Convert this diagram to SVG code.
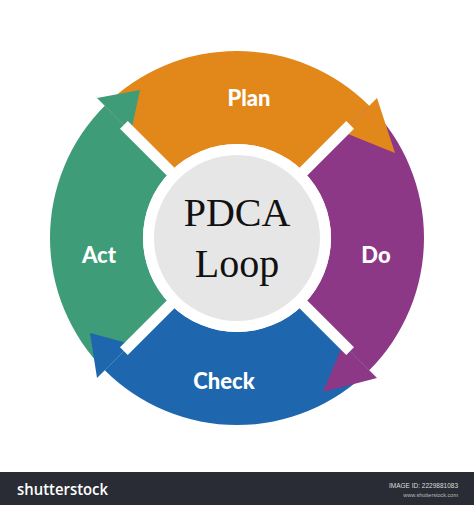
<svg xmlns="http://www.w3.org/2000/svg" width="474" height="505" viewBox="0 0 474 505">
<style>
.lbl{font-family:Lato,"Open Sans",sans-serif;font-weight:900;font-size:22px;fill:#fff;text-anchor:middle}
.ctr{font-family:"Liberation Serif","DejaVu Serif",serif;font-size:40px;fill:#111;text-anchor:middle}
.bar{stroke:#fff;stroke-width:11;stroke-linecap:butt}
</style>
<rect width="474" height="505" fill="#fff"/>
<g id="bodies">
<path id="plan-body" fill="#E2871A" d="M104.77,105.77 A187,187 0 0 1 369.23,105.77 L303.47,171.53 A94,94 0 0 0 170.53,171.53 Z"/>
<path id="do-body" fill="#8D3887" d="M369.23,105.77 A187,187 0 0 1 369.23,370.23 L303.47,304.47 A94,94 0 0 0 303.47,171.53 Z"/>
<path id="check-body" fill="#1E66AE" d="M369.23,370.23 A187,187 0 0 1 104.77,370.23 L170.53,304.47 A94,94 0 0 0 303.47,304.47 Z"/>
<path id="act-body" fill="#3E9C79" d="M104.77,370.23 A187,187 0 0 1 104.77,105.77 L170.53,171.53 A94,94 0 0 0 170.53,304.47 Z"/>
</g>
<g id="heads">
<polygon fill="#E2871A" points="343.07,131.93 377,98 395,153"/>
<polygon fill="#8D3887" points="343.07,344.07 377,378 323,392"/>
<polygon fill="#1E66AE" points="130.93,344.07 97,378 90,333"/>
<polygon fill="#3E9C79" points="130.93,131.93 97,98 140,90"/>
</g>
<g id="connectors">
<line class="bar" x1="300.64" y1="174.36" x2="350.14" y2="124.86"/>
<line class="bar" x1="300.64" y1="301.64" x2="350.14" y2="351.14"/>
<line class="bar" x1="173.36" y1="301.64" x2="123.86" y2="351.14"/>
<line class="bar" x1="173.36" y1="174.36" x2="123.86" y2="124.86"/>
</g>
<g id="center">
<circle cx="237" cy="238" r="94" fill="#fff"/>
<circle cx="237" cy="238" r="83" fill="#E6E6E6"/>
<text class="ctr" x="237" y="226">PDCA</text>
<text class="ctr" x="237" y="277">Loop</text>
</g>
<g id="plan"><text class="lbl" x="249" y="106">Plan</text></g>
<g id="do"><text class="lbl" x="376" y="263">Do</text></g>
<g id="check"><text class="lbl" x="224" y="389">Check</text></g>
<g id="act"><text class="lbl" x="99" y="263">Act</text></g>
<g id="footer">
<rect x="0" y="472" width="474" height="33" fill="#292C34"/>
<text x="17" y="495" font-family="'Open Sans',sans-serif" font-weight="600" font-size="17" fill="#fff" textLength="91" lengthAdjust="spacingAndGlyphs">shutterstock</text>
<text x="458" y="488" font-family="'Liberation Sans',sans-serif" font-size="6.5" fill="#ddd" text-anchor="end">IMAGE ID: 2229881083</text>
<text x="458" y="497" font-family="'Liberation Sans',sans-serif" font-size="5.5" fill="#bbb" text-anchor="end">www.shutterstock.com</text>
</g>
</svg>
